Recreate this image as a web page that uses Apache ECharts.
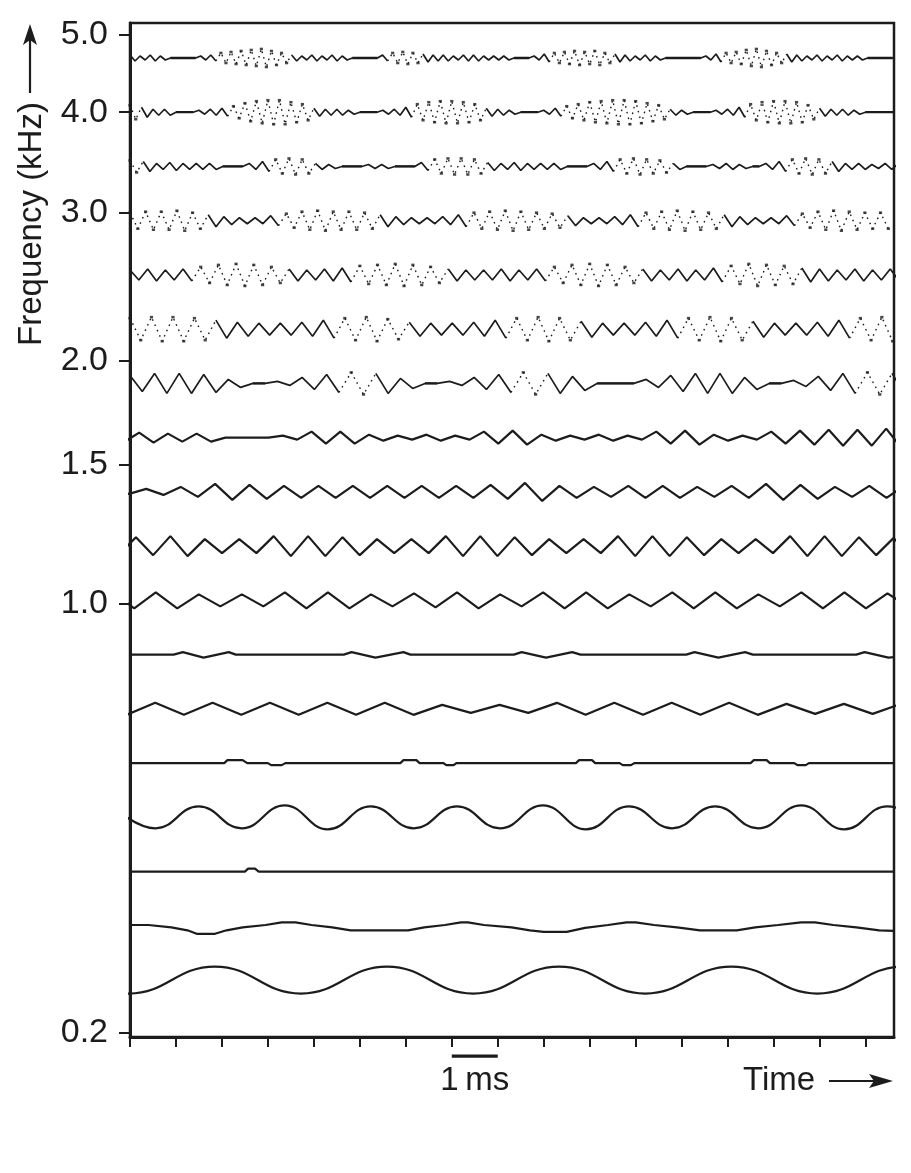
<!DOCTYPE html>
<html><head><meta charset="utf-8">
<script src="https://cdn.jsdelivr.net/npm/echarts@6/dist/echarts.min.js"></script>
<style>html,body{margin:0;padding:0;background:#fff}#c{width:911px;height:1173px}</style>
</head><body><div id="c"></div>
<script>
// ---- DATA ----
// channel centre frequencies (kHz), top to bottom
const channelCF = [4.68,4.00,3.43,2.93,2.53,2.18,1.88,1.62,1.39,1.18,1.01,0.85,0.72,0.60,0.50,0.41,0.33,0.26];
const tickFreqs = [5.0,4.0,3.0,2.0,1.5,1.0,0.2];
const tickLabels = ['5.0','4.0','3.0','2.0','1.5','1.0','0.2'];
const timeTicks = [0,1,2,3,4,5,6,7,8,9,10,11,12,13,14,15,16]; // ms
const timeMax = 16.62; // ms
const scaleBarMs = [7, 8];

// Periodic channels: f = oscillation frequency (kHz), t0 = time of first positive peak (ms),
// amps = peak amplitude of each successive cycle (a.u.)
const ch1 = {f:4.55, t0:0, amps:[3,2,3,2,0,0,0,2,3,5,6,7,8,9,7,5,3,2,3,2,3,2,0,0,0,3,5,6,5,4,3,3,2,3,3,2,2,2,0,0,2,4,5,6,7,6,7,5,4,3,2,3,2,0,0,0,0,2,4,5,6,8,9,7,5,4,3,2,3,2,3,2,2,0,0,0]};
const ch2 = {f:4.00, t0:0, amps:[7,5,3,3,0,0,2,3,4,6,9,11,12,12,10,8,4,3,3,2,0,0,2,3,5,8,10,11,11,10,8,4,3,2,0,0,2,4,6,8,10,11,12,12,11,9,7,3,2,0,0,2,3,5,8,10,11,11,10,7,4,3,3,2,0,0,0]};
const ch3 = {f:3.47, t0:0, amps:[6,5,3,4,3,3,3,0,0,3,5,7,8,7,3,2,0,0,2,2,0,0,4,7,8,8,7,4,3,4,3,3,3,0,0,3,5,7,8,7,6,3,0,0,2,3,2,0,3,5,7,8,7,5,3,3,2,3,3]};
const ch4 = {f:2.94, t0:0, amps:[8,9,9,10,8,6,4,3,3,5,7,9,10,9,9,8,6,4,3,3,4,6,8,9,10,9,8,7,5,3,3,4,6,8,9,10,9,8,6,4,3,3,5,7,9,10,9,8,8]};
const ch5 = {f:2.60, t0:0, amps:[5,6,5,6,8,10,11,10,8,6,5,6,7,9,10,11,10,8,6,5,5,6,5,6,8,10,11,10,8,6,5,6,5,7,9,11,10,9,7,6,5,6,5,6]};
const ch6 = {f:2.14, t0:0, amps:[11,12,12,11,9,7,6,6,7,9,11,12,10,7,6,6,7,9,11,12,11,8,6,6,7,9,11,12,11,8,6,6,7,9,11,12]};
const ch7 = {f:1.87, t0:0, amps:[8,10,10,9,4,0,2,6,9,11,10,5,0,2,6,9,11,10,7,0,0,4,8,10,10,6,0,3,7,10,11,10]};
const ch8 = {f:1.60, t0:-0.425, amps:[4,5,4,4,0,0,2,6,6,3,2,3,2,6,7,3,2,3,2,6,7,3,2,6,7,8,8,9]};
const ch9 = {f:1.335, t0:-0.396, amps:[2,3,5,8,7,6,6,6,6,6,6,7,9,6,5,6,6,5,6,8,7,5,6,6]};
const ch10 = {f:1.335, t0:-0.62, amps:[9,9,10,7,7,10,10,9,7,7,10,10,9,7,7,10,10,9,7,7,10,10,9,8]};
const ch11 = {f:1.068, t0:-0.376, amps:[8,8,6,6,8,8,6,7,8,6,8,8,6,8,8,6,8,8,7]};
const ch13 = {f:0.801, t0:-0.70, amps:[6,6,6,6,6,6,4,4,6,6,6,6,5,5,5]};
const ch15 = {f:0.534, t0:-0.38, amps:[11,11,12,11,11,12,11,11,12,11]};
const ch18 = {f:0.267, t0:-1.90, amps:[13.5,13.5,13.5,13.5,13.5,13.5]};

// Sparse channels: [time (ms), amplitude (a.u.)]
const ch12 = [[0,0],[0.95,0],[1.15,2.5],[1.6,-3],[2.15,2.5],[2.3,0],[4.65,0],[4.82,2.5],[5.34,-3],[5.95,2.5],[6.1,0],[8.35,0],[8.52,2.5],[9.05,-3],[9.62,2.5],[9.8,0],[12.1,0],[12.28,2.5],[12.8,-3],[13.38,2.5],[13.55,0],[15.8,0],[15.98,2.5],[16.5,-3],[16.62,-2.5]];
const ch14 = [[0,0],[2.05,0],[2.12,3],[2.45,3],[2.55,0],[3.0,0],[3.07,-2],[3.3,-2],[3.38,0],[5.88,0],[5.95,3],[6.23,3],[6.3,0],[6.82,0],[6.88,-2],[7.04,-2],[7.1,0],[9.7,0],[9.77,3],[10.05,3],[10.12,0],[10.65,0],[10.72,-2],[10.9,-2],[10.97,0],[13.5,0],[13.57,3],[13.85,3],[13.92,0],[14.45,0],[14.52,-2],[14.7,-2],[14.77,0],[16.62,0]];
const ch16 = [[0,0],[2.5,0],[2.57,3],[2.72,3],[2.8,0],[16.62,0]];
const ch17 = [[0,0.8],[0.4,0.8],[0.9,-1.5],[1.25,-4.5],[1.45,-8],[1.85,-8],[2.1,-4.5],[2.45,-1.5],[2.95,0.8],[3.3,3.5],[3.6,3.5],[3.95,0.8],[4.4,-1.5],[4.8,-4.5],[6.05,-4.5],[6.4,-1.5],[6.85,0.8],[7.2,3.5],[7.35,3.5],[7.7,0.8],[8.3,-1.5],[8.7,-4.5],[9.0,-6],[9.5,-6],[9.9,-2],[10.4,0.8],[10.8,3.5],[11.0,3.5],[11.4,0.8],[11.9,-1.5],[12.4,-4.5],[13.2,-4.5],[13.6,-1.5],[14.1,0.8],[14.6,3.5],[14.9,3.5],[15.3,0.8],[15.8,-1.5],[16.3,-4.5],[16.62,-5]];

const channels = [ch1,ch2,ch3,ch4,ch5,ch6,ch7,ch8,ch9,ch10,ch11,ch12,ch13,ch14,ch15,ch16,ch17,ch18];
const smoothChannels = [15,18];

// ---- BUILD ----
const INK = '#1d1b1c';
const FONT = 'Liberation Sans, Arial, Helvetica, sans-serif';
const ampScale = 1/54.24;   // channel spacing in a.u.
const steepLimit = 20;      // amplitude x frequency above which the printed trace breaks into dots

const erb = f => 21.4*Math.log10(4.37*f+1);
function placeOf(F){
  const E = channelCF.map(erb); const e = erb(F);
  let i = 0; while (i < E.length-2 && e < E[i+1]) i++;
  return (i+1) + (E[i]-e)/(E[i]-E[i+1]);
}
const tickPlaces = tickFreqs.map(placeOf);

function verts(ch){
  if (Array.isArray(ch)) return ch.map(p => ({t:p[0], a:p[1], dot:false}));
  const P = 1/ch.f, v = [];
  ch.amps.forEach((a,i) => {
    const dot = a*ch.f > steepLimit;
    v.push({t:ch.t0+i*P, a:a, dot:dot});
    v.push({t:ch.t0+(i+0.5)*P, a:-a, dot:dot});
  });
  return v;
}

const series = [];
channels.forEach((ch, idx) => {
  const k = idx+1;
  const v = verts(ch);
  const toPt = p => [p.t, k - p.a*ampScale];
  const gap = p => [p.t, '-'];
  const anyDot = v.some(p => p.dot);
  if (!anyDot) {
    series.push({type:'line', data:v.map(toPt), showSymbol:false, symbol:'none', silent:true,
      smooth: smoothChannels.includes(k) ? 0.45 : false,
      lineStyle:{color:INK, width:2.2}});
    return;
  }
  // flat stretches: bold; small wiggles: thinner; steep bursts: dots + faint dotted strokes
  series.push({type:'line', data:v.map((p,i) => (p.a===0 && (!v[i+1] || v[i+1].a===0)) || (p.a===0 && v[i-1] && v[i-1].a===0) ? toPt(p) : gap(p)),
    showSymbol:false, symbol:'none', silent:true, connectNulls:false, lineStyle:{color:INK, width:2.3}});
  series.push({type:'line', data:v.map(p => p.dot ? gap(p) : toPt(p)), showSymbol:false, symbol:'none',
    silent:true, connectNulls:false, lineStyle:{color:INK, width:1.7}});
  series.push({type:'line', data:v.map((p,i) => (p.dot || (v[i-1]&&v[i-1].dot) || (v[i+1]&&v[i+1].dot)) ? toPt(p) : gap(p)),
    showSymbol:false, symbol:'none', silent:true, connectNulls:false,
    lineStyle:{color:INK, width:1.4, type:[1.6,4.2]}});
  series.push({type:'scatter', data:v.filter(p => p.dot).map(toPt), symbol:'rect', symbolSize:[3.2,2.6],
    silent:true, itemStyle:{color:INK}});
});

const chart = echarts.init(document.getElementById('c'), null, {renderer:'canvas'});
const option = {
  animation:false,
  backgroundColor:'#fff',
  grid:{left:130, right:17, top:23, bottom:136, show:true, borderColor:INK, borderWidth:2.5, backgroundColor:'transparent'},
  xAxis:{type:'value', min:0, max:timeMax, interval:1,
    axisLine:{show:true, lineStyle:{color:INK, width:3}},
    axisTick:{show:true, inside:false, length:10, customValues:timeTicks, lineStyle:{color:INK, width:2}},
    axisLabel:{show:false}, splitLine:{show:false}},
  yAxis:{type:'value', inverse:true, min:0.355, max:19.05,
    axisLine:{show:true, lineStyle:{color:INK, width:3}},
    axisTick:{show:true, inside:false, length:11, customValues:tickPlaces, lineStyle:{color:INK, width:2}},
    axisLabel:{show:true, customValues:tickPlaces, margin:22, fontSize:34, fontFamily:FONT, color:INK,
      padding:[14,0,0,0],
      formatter:(val)=>{ let b=0, d=1e9; tickPlaces.forEach((p,i)=>{ const dd=Math.abs(p-val); if(dd<d){d=dd;b=i;} }); return tickLabels[b]; }},
    splitLine:{show:false}},
  series: series
};
chart.setOption(option);

// axis titles, arrows and the 1 ms scale bar
const xa = chart.convertToPixel({xAxisIndex:0}, scaleBarMs[0]);
const xb = chart.convertToPixel({xAxisIndex:0}, scaleBarMs[1]);
chart.setOption({graphic:[
  {type:'text', x:32, y:224, rotation:Math.PI/2, style:{text:'Frequency (kHz)', font:'33px '+FONT, fill:INK, align:'center', verticalAlign:'middle'}},
  {type:'line', shape:{x1:30, y1:93, x2:30, y2:40}, style:{stroke:INK, lineWidth:2.2}},
  {type:'polygon', shape:{points:[[30,24],[23,45],[30,40],[37,45]]}, style:{fill:INK}},
  {type:'text', x:779, y:1081, style:{text:'Time', font:'33px '+FONT, fill:INK, align:'center', verticalAlign:'middle'}},
  {type:'line', shape:{x1:829, y1:1081, x2:876, y2:1081}, style:{stroke:INK, lineWidth:2.2}},
  {type:'polygon', shape:{points:[[893,1081],[869,1074],[874,1081],[869,1088]]}, style:{fill:INK}},
  {type:'rect', shape:{x:xa, y:1054.5, width:xb-xa, height:3.2}, style:{fill:INK}},
  {type:'text', x:(xa+xb)/2, y:1081, style:{text:'1\u2009ms', font:'33px '+FONT, fill:INK, align:'center', verticalAlign:'middle'}}
]});
</script>
</body></html>
